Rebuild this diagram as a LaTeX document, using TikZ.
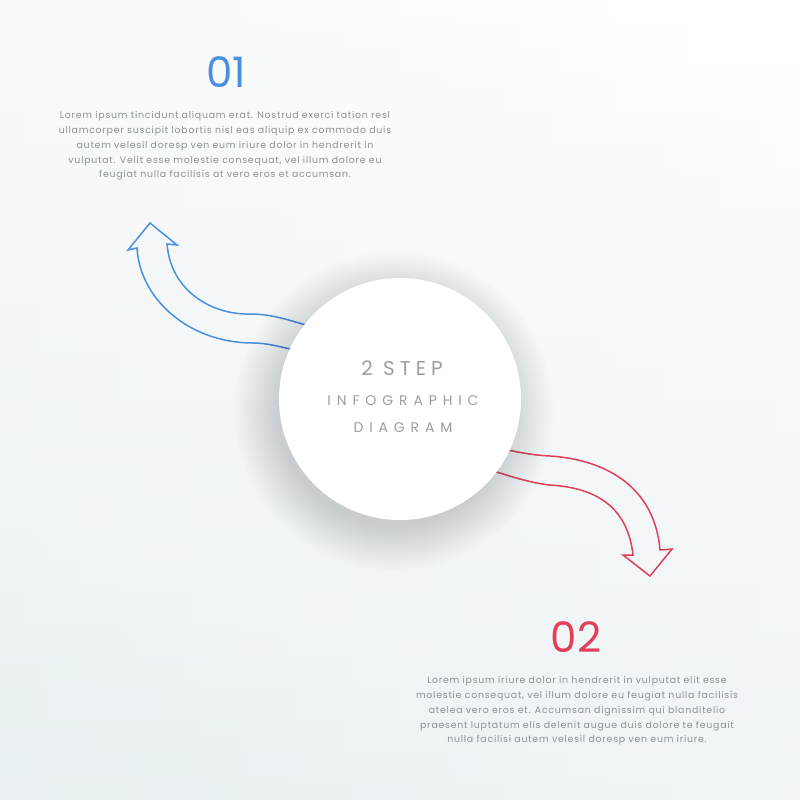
\documentclass[tikz,border=0pt]{standalone}
\usepackage{fontspec}
\setmainfont{Poppins}
\definecolor{bgA}{HTML}{F0F5F7}
\definecolor{bgB}{HTML}{E6EEF1}
\definecolor{blueline}{HTML}{4A8FE0}
\definecolor{redline}{HTML}{E2405A}
\definecolor{bodytext}{HTML}{8C9196}
\definecolor{circtext}{HTML}{9A9FA4}
\definecolor{shadowcol}{HTML}{4A5A64}
\tikzset{
  arrowline/.style={line width=1.5pt, line join=miter},
  bodytextnode/.style={align=center, text=bodytext, font=\fontsize{9.4}{14.7}\selectfont\addfontfeature{LetterSpace=8}, inner sep=0pt},
  numnode/.style={font=\fontsize{42}{42}\selectfont, inner sep=0pt},
  circtitle/.style={text=circtext, inner sep=0pt}
}
\begin{document}
\begin{tikzpicture}[x=1pt,y=-1pt]
\useasboundingbox (0,0) rectangle (800,800);
\shade[left color=bgA, right color=white] (0,0) rectangle (800,800);
\shade[top color=white, bottom color=bgB, opacity=0.6] (0,0) rectangle (800,800);
% blue arrow
\draw[arrowline, blueline] (325,330) .. controls (292,322) and (276,314) .. (250,314)
  .. controls (213,315) and (171,292) .. (167,244) -- (177,245) -- (150,223) -- (128,250) -- (137,248)
  .. controls (140,300) and (190,343) .. (253,343) .. controls (275,343) and (292,352) .. (325,354);
% red arrow
\draw[arrowline, redline] (492,447) .. controls (518,452) and (530,455) .. (550,456)
  .. controls (610,460) and (655,490) .. (660,550) -- (672,549) -- (650,576) -- (623,555) -- (633,555)
  .. controls (628,510) and (600,488) .. (550,485) .. controls (530,483) and (510,476) .. (490,470);
% soft shadow
\foreach \r in {0,...,40}{
  \fill[shadowcol, opacity=0.0055] (394,411) circle ({116+1.1*\r});
}
% circle
\node[circle, minimum size=242pt, inner sep=0pt, fill=white] (c) at (400,399) {};
\node[circtitle, font=\fontsize{20}{20}\selectfont\addfontfeature{LetterSpace=25}] (t1) at (402,368) {2 STEP};
\node[circtitle, font=\fontsize{14}{14}\selectfont\addfontfeature{LetterSpace=42}] (t2) at (403,401) {INFOGRAPHIC};
\node[circtitle, font=\fontsize{14}{14}\selectfont\addfontfeature{LetterSpace=42}] (t3) at (403,428) {DIAGRAM};
% step 1
\node[numnode, text=blueline] (n1) at (226,72) {01};
\node[bodytextnode] (p1) at (225,146) {Lorem ipsum tincidunt aliquam erat. Nostrud exerci tation resl\\
ullamcorper suscipit lobortis nisl eas aliquip ex commodo duis\\
autem velesil doresp ven eum iriure dolor in hendrerit in\\
vulputat. Velit esse molestie consequat, vel illum dolore eu\\
feugiat nulla facilisis at vero eros et accumsan.};
% step 2
\node[numnode, text=redline] (n2) at (576,637) {02};
\node[bodytextnode] (p2) at (577,711) {Lorem ipsum iriure dolor in hendrerit in vulputat elit esse\\
molestie consequat, vel illum dolore eu feugiat nulla facilisis\\
atelea vero eros et. Accumsan dignissim qui blanditelio\\
praesent luptatum elis delenit augue duis dolore te feugait\\
nulla facilisi autem velesil doresp ven eum iriure.};
\end{tikzpicture}
\end{document}
